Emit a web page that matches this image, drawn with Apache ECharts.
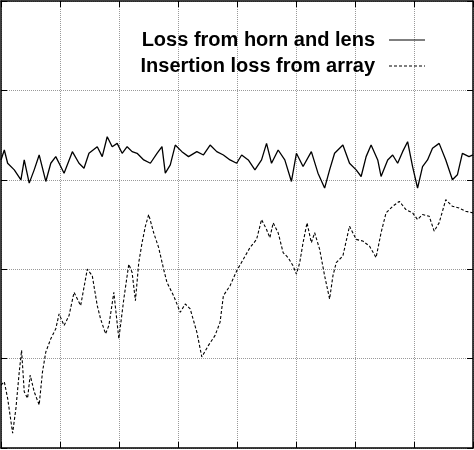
<!DOCTYPE html>
<html>
<head>
<meta charset="utf-8">
<script src="https://cdn.jsdelivr.net/npm/echarts@6/dist/echarts.min.js"></script>
<style>html,body{margin:0;padding:0;background:#fff}#chart{width:474px;height:450px}</style>
</head>
<body>
<div id="chart"></div>
<script>
// points (x in grid units 0..8, y in grid units 0..5)
var hornX = [0,10,20,40,60,70,85,100,115,135,150,165,180,190,215,235,250,265,290,305,320,335,350,365,380,395,410,430,450,470,485,495,510,525,545,565,590,610,630,650,670,690,710,725,745,765,785,800,815,835,855,875,890,910,935,955,975,990,1005,1030,1050,1070,1085,1100,1115,1135,1145,1165,1180,1195,1210,1225,1240,1255,1270,1285,1300,1320,1340,1360,1375,1390,1410,1422];
var hornY = [480,450,490,510,540,480,550,510,465,545,490,470,500,520,455,490,505,460,440,470,410,440,430,460,440,455,460,480,490,460,440,520,495,435,455,470,455,465,435,455,465,480,490,465,480,510,480,430,490,450,480,545,460,500,455,520,565,510,460,435,490,510,530,470,435,480,530,480,465,490,455,425,500,565,500,480,445,430,480,540,525,460,470,465];
var arrayX = [0,10,20,35,45,55,62,70,80,88,100,115,125,135,150,165,175,190,205,220,240,260,275,290,300,315,325,340,355,370,385,395,405,415,425,435,445,460,475,490,500,520,540,555,570,590,605,625,645,660,670,690,710,730,750,770,785,800,810,820,835,850,865,880,890,900,910,922,935,945,960,975,990,1000,1010,1030,1050,1070,1090,1110,1130,1145,1160,1180,1200,1220,1240,1255,1270,1290,1305,1320,1340,1360,1380,1400,1422];
var arrayY = [1160,1150,1200,1305,1230,1120,1055,1180,1200,1130,1180,1220,1120,1060,1020,990,945,980,950,880,920,810,830,920,960,1005,980,880,1020,900,795,820,905,790,730,680,645,700,745,810,850,890,940,915,930,1000,1075,1040,1010,970,890,860,815,780,745,720,660,690,715,670,700,760,775,800,825,790,730,670,730,700,750,830,900,830,790,770,680,720,725,740,775,700,640,620,605,630,640,660,645,650,695,670,600,620,625,635,640];
var seriesNames = ['Loss from horn and lens', 'Insertion loss from array'];

function toPts(xs, ys) {
  return xs.map(function (x, i) { return [x / 1422 * 8, (1350 - ys[i]) / 270]; });
}

var chart = echarts.init(document.getElementById('chart'));
var grid = {type: 'dotted', color: '#999', width: 1};
var frame = {show: true, onZero: false, lineStyle: {color: '#000', width: 1.5}};
var solidIcon = 'path://M0,0h36v1h-36z';
var dashIcon = 'path://M0,0h3v1h-3z M5,0h3v1h-3z M10,0h3v1h-3z M15,0h3v1h-3z M20,0h3v1h-3z M25,0h3v1h-3z M30,0h3v1h-3z M35,0h1v1h-1z';
chart.setOption({
  animation: false,
  grid: {left: 1, right: 1, top: 1, bottom: 2, containLabel: false},
  legend: {
    orient: 'vertical', right: 44, top: 25, align: 'right', itemGap: 6,
    itemWidth: 36, itemHeight: 1.2,
    textStyle: {fontFamily: 'Liberation Sans', fontWeight: 'bold', fontSize: 20, color: '#000', padding: [0, 9, 0, 0]},
    data: [{name: seriesNames[0], icon: solidIcon}, {name: seriesNames[1], icon: dashIcon}]
  },
  xAxis: [
    {type: 'value', min: 0, max: 8, interval: 1, axisLine: frame,
     axisTick: {inside: true, length: 6, lineStyle: {color: '#000'}}, axisLabel: {show: false},
     splitLine: {lineStyle: grid}},
    {type: 'value', position: 'top', min: 0, max: 8, interval: 1, axisLine: frame,
     axisTick: {inside: true, length: 6, lineStyle: {color: '#000'}}, axisLabel: {show: false},
     splitLine: {show: false}}
  ],
  yAxis: [
    {type: 'value', min: 0, max: 5, interval: 1, axisLine: frame,
     axisTick: {inside: true, length: 6, lineStyle: {color: '#000'}}, axisLabel: {show: false},
     splitLine: {lineStyle: grid}},
    {type: 'value', position: 'right', min: 0, max: 5, interval: 1, axisLine: frame,
     axisTick: {inside: true, length: 6, lineStyle: {color: '#000'}}, axisLabel: {show: false},
     splitLine: {show: false}}
  ],
  series: [
    {name: seriesNames[0], type: 'line', symbol: 'none', data: toPts(hornX, hornY),
     lineStyle: {color: '#000', width: 1.3}, itemStyle: {color: '#000'}},
    {name: seriesNames[1], type: 'line', symbol: 'none', data: toPts(arrayX, arrayY),
     lineStyle: {color: '#000', width: 1.1, type: [3, 2]}, itemStyle: {color: '#000'}}
  ]
});
</script>
</body>
</html>
